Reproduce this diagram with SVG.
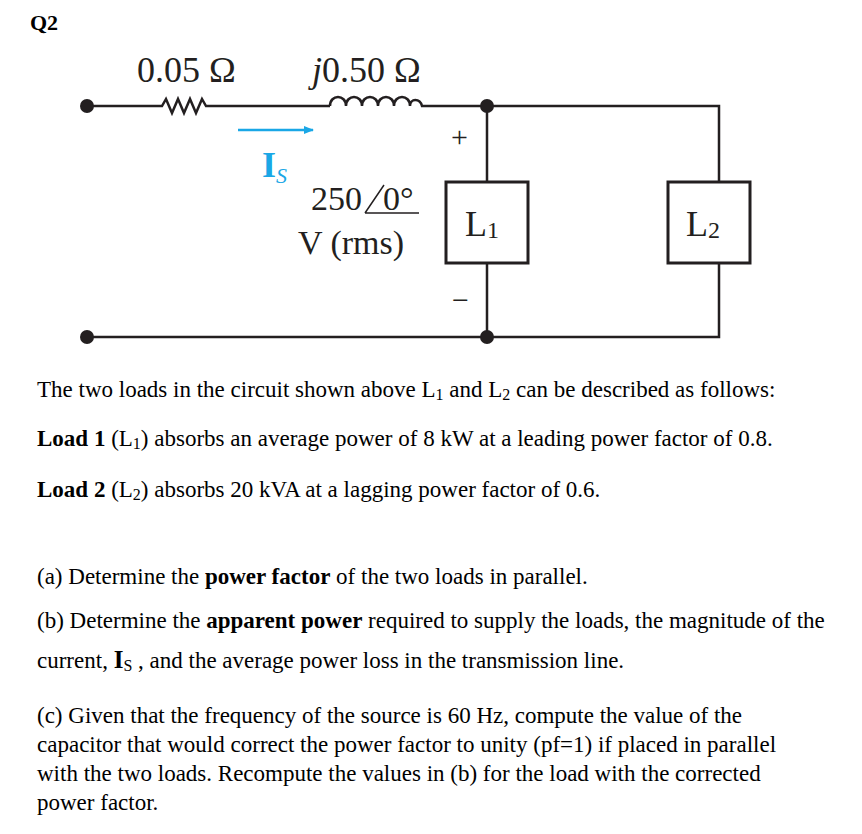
<svg xmlns="http://www.w3.org/2000/svg" width="862" height="834" viewBox="0 0 862 834">
<style>
.w{stroke:#231f20;stroke-width:2.5;fill:none}
.dot{fill:#231f20}
</style>
<defs><marker id="ah" markerWidth="10" markerHeight="8" refX="9" refY="4" orient="auto" markerUnits="userSpaceOnUse"><path d="M0,0L10,4L0,8z" fill="#1aa7e6"/></marker></defs>
<rect width="862" height="834" fill="#fff"/>
<text font-family="Liberation Serif, serif" x="30" y="30" font-size="22" font-weight="bold">Q2</text>
<g id="connectors">
<path class="w" d="M87,106H162l4,-7 6,14 6,-14 6,14 6,-14 6,14 6,-14 4,7H330"/>
<path class="w" d="M330,106c0,-12 16,-12 16,0c0,-12 16,-12 16,0c0,-12 16,-12 16,0c0,-12 16,-12 16,0c0,-12 16,-12 16,0c0,-8 10,-8 12,0H719V181"/>
<path class="w" d="M487,106V181M487,263V337M719,263V337H87"/>
<path d="M238,130H313" stroke="#1aa7e6" stroke-width="2.5" marker-end="url(#ah)"/>
</g>
<g id="nodes">
<circle class="dot" cx="87" cy="106" r="7"/><circle class="dot" cx="487" cy="106" r="7"/>
<circle class="dot" cx="87" cy="337" r="7"/><circle class="dot" cx="487" cy="337" r="7"/>
</g>
<g font-family="Liberation Serif, serif" fill="#231f20">
<g id="L1"><rect x="446" y="182" width="82" height="81" fill="#fff" stroke="#231f20" stroke-width="3"/>
<text x="465" y="236" font-size="36">L<tspan font-size="24" dy="2">1</tspan></text></g>
<g id="L2"><rect x="668" y="182" width="82" height="81" fill="#fff" stroke="#231f20" stroke-width="3"/>
<text x="686" y="236" font-size="36">L<tspan font-size="24" dy="2">2</tspan></text></g>
<g id="labels">
<text x="137" y="82" font-size="36">0.05 Ω</text>
<text x="312" y="82" font-size="36"><tspan font-style="italic">j</tspan>0.50 Ω</text>
<text x="451" y="147" font-size="30">+</text>
<text x="452" y="310" font-size="30">−</text>
<text x="262" y="177" font-size="36" font-weight="bold" fill="#1aa7e6">I<tspan font-size="22" font-style="italic" font-weight="normal" dy="6">S</tspan></text>
<text x="311" y="210" font-size="34">250</text>
<path d="M365,213L384,185M365,213H419" stroke="#231f20" stroke-width="1.5" fill="none"/>
<text x="383" y="210" font-size="34">0°</text>
<text x="298" y="254" font-size="34">V (rms)</text>
</g>
</g>
<g font-family="Liberation Serif, serif" fill="#000" font-size="23">
<text x="37" y="397">The two loads in the circuit shown above L<tspan font-size="16" dy="3">1</tspan><tspan dy="-3"> and L</tspan><tspan font-size="16" dy="3">2</tspan><tspan dy="-3">  can be described as follows:</tspan></text>
<text x="37" y="446"><tspan font-weight="bold">Load 1</tspan> (L<tspan font-size="16" dy="3">1</tspan><tspan dy="-3">) absorbs an average power of 8 kW at a leading power factor of 0.8.</tspan></text>
<text x="37" y="497"><tspan font-weight="bold">Load 2</tspan> (L<tspan font-size="16" dy="3">2</tspan><tspan dy="-3">) absorbs 20 kVA at a lagging power factor of 0.6.</tspan></text>
<text x="37" y="584">(a) Determine the <tspan font-weight="bold">power factor</tspan> of the two loads in parallel.</text>
<text x="37" y="628">(b) Determine the <tspan font-weight="bold">apparent power</tspan> required to supply the loads, the magnitude of the</text>
<text x="37" y="668">current, <tspan font-weight="bold" font-size="25">I</tspan><tspan font-size="16" dy="3">S</tspan><tspan dy="-3"> , and the average power loss in the transmission line.</tspan></text>
<text x="37" y="723">(c) Given that the frequency of the source is 60 Hz, compute the value of the</text>
<text x="37" y="752">capacitor that would correct the power factor to unity (pf=1)  if placed in parallel</text>
<text x="37" y="781">with the two loads. Recompute the values in (b) for the load with the corrected</text>
<text x="37" y="810">power factor.</text>
</g>
</svg>
